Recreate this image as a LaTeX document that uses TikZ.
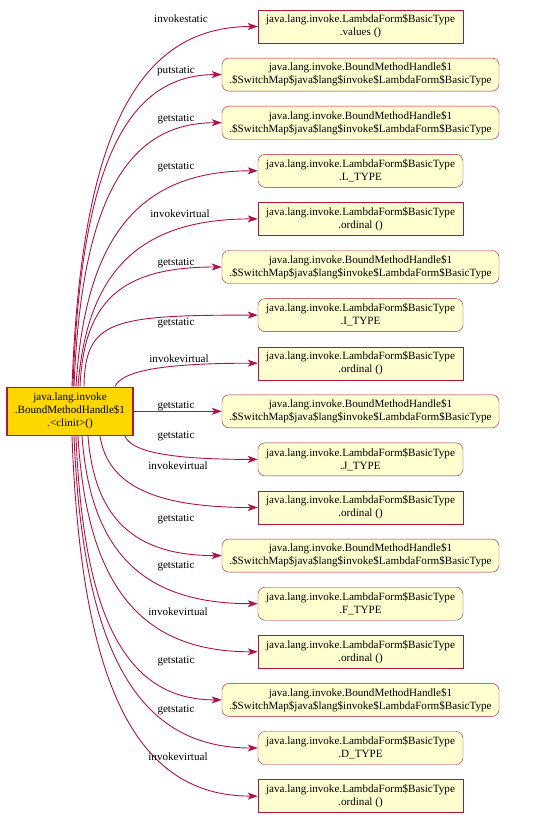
\documentclass[tikz,border=0pt]{standalone}
\usepackage{fontspec}
\setmainfont{Liberation Serif}
\usepackage{tikz}
\usetikzlibrary{arrows.meta}
\definecolor{callred}{RGB}{176,20,68}
\definecolor{boxfill}{RGB}{255,255,208}
\definecolor{rootfill}{RGB}{255,215,0}

\begin{document}
\begin{tikzpicture}[
  x=1pt, y=-1pt,
  font=\fontsize{11.1}{13}\selectfont,
  lab/.style={inner sep=1pt},
  mth/.style={draw=callred, fill=boxfill, align=center, inner sep=2pt, minimum width=205pt, minimum height=33pt},
  fld/.style={mth, rounded corners=7pt},
  wfld/.style={fld, minimum width=277pt},
  root/.style={draw=callred, fill=rootfill, line width=1.6pt, align=center, inner sep=2pt, minimum width=126pt, minimum height=48pt},
  call/.style={callred, line width=0.9pt, -{Stealth[length=10pt, width=7pt, inset=2.5pt]}},
]
\useasboundingbox (0,0) rectangle (538,824);
\def\tx{360.5}
\def\BT{java.lang.invoke.LambdaForm\$BasicType}
\def\SM{java.lang.invoke.BoundMethodHandle\$1\\.\$SwitchMap\$java\$lang\$invoke\$LambdaForm\$BasicType}

% ---------- caller ----------
\node[root] (src) at (70,411.3) {java.lang.invoke\\.BoundMethodHandle\$1\\.<clinit>()};

% ---------- callees ----------
\node[mth]  (t1)  at (\tx,26.5)  {\BT\\.values ()};
\node[wfld] (t2)  at (\tx,74.6)  {\SM};
\node[wfld] (t3)  at (\tx,122.7) {\SM};
\node[fld]  (t4)  at (\tx,170.8) {\BT\\.L\_TYPE};
\node[mth]  (t5)  at (\tx,218.9) {\BT\\.ordinal ()};
\node[wfld] (t6)  at (\tx,267.0) {\SM};
\node[fld]  (t7)  at (\tx,315.1) {\BT\\.I\_TYPE};
\node[mth]  (t8)  at (\tx,363.2) {\BT\\.ordinal ()};
\node[wfld] (t9)  at (\tx,411.3) {\SM};
\node[fld]  (t10) at (\tx,459.4) {\BT\\.J\_TYPE};
\node[mth]  (t11) at (\tx,507.5) {\BT\\.ordinal ()};
\node[wfld] (t12) at (\tx,555.6) {\SM};
\node[fld]  (t13) at (\tx,603.7) {\BT\\.F\_TYPE};
\node[mth]  (t14) at (\tx,651.8) {\BT\\.ordinal ()};
\node[wfld] (t15) at (\tx,699.9) {\SM};
\node[fld]  (t16) at (\tx,748.0) {\BT\\.D\_TYPE};
\node[mth]  (t17) at (\tx,796.1) {\BT\\.ordinal ()};

% ---------- calls upwards ----------
\draw[call] ([xshift=2pt]src.north)  .. controls (81.3,134.4) and (137.1,26.5) .. (t1.west);
\draw[call] ([xshift=3pt]src.north)  .. controls (80.5,168.4) and (125.2,74.6) .. (t2.west);
\draw[call] ([xshift=4pt]src.north)  .. controls (81.4,202.1) and (125.8,122.7) .. (t3.west);
\draw[call] ([xshift=6pt]src.north)  .. controls (85.1,235.7) and (139.7,170.8) .. (t4.west);
\draw[call] ([xshift=8pt]src.north)  .. controls (87.0,269.4) and (141.0,218.9) .. (t5.west);
\draw[call] ([xshift=10pt]src.north) .. controls (84.0,300.0) and (122.0,267.0) .. (t6.west);
\draw[call] ([xshift=14pt]src.north) .. controls (85.0,320.0) and (112.0,315.1) .. (t7.west);
\draw[call] ([xshift=45pt]src.north) .. controls (122.2,370.4) and (165.0,363.2) .. (t8.west);
\draw[call] (src.east) -- (t9.west);

% ---------- calls downwards ----------
\draw[call] ([xshift=55pt]src.south) .. controls (131.7,452.2) and (171.6,459.4) .. (t10.west);
\draw[call] ([xshift=30pt]src.south) .. controls (107.9,485.8) and (155.3,507.5) .. (t11.west);
\draw[call] ([xshift=18pt]src.south) .. controls (94.7,519.5) and (134.9,555.6) .. (t12.west);
\draw[call] ([xshift=12pt]src.south) .. controls (90.8,553.2) and (143.6,603.7) .. (t13.west);
\draw[call] ([xshift=8pt]src.south)  .. controls (87.0,586.9) and (141.0,651.8) .. (t14.west);
\draw[call] ([xshift=6pt]src.south)  .. controls (83.3,620.5) and (127.1,699.9) .. (t15.west);
\draw[call] ([xshift=4pt]src.south)  .. controls (83.2,654.2) and (138.4,748.0) .. (t16.west);
\draw[call] ([xshift=2pt]src.south)  .. controls (81.3,687.9) and (137.1,796.1) .. (t17.west);

% ---------- labels ----------
\node[lab] (l1)  at (181,19)  {invokestatic};
\node[lab] (l2)  at (176,71)  {putstatic};
\node[lab] (l3)  at (176,119) {getstatic};
\node[lab] (l4)  at (176,167) {getstatic};
\node[lab] (l5)  at (180,214) {invokevirtual};
\node[lab] (l6)  at (176,263) {getstatic};
\node[lab] (l7)  at (176,323) {getstatic};
\node[lab] (l8)  at (179,359) {invokevirtual};
\node[lab] (l9)  at (176,406) {getstatic};
\node[lab] (l10) at (176,436) {getstatic};
\node[lab] (l11) at (178,466) {invokevirtual};
\node[lab] (l12) at (176,519) {getstatic};
\node[lab] (l13) at (176,566) {getstatic};
\node[lab] (l14) at (178,612) {invokevirtual};
\node[lab] (l15) at (176,661) {getstatic};
\node[lab] (l16) at (176,710) {getstatic};
\node[lab] (l17) at (178,757) {invokevirtual};
\end{tikzpicture}
\end{document}
